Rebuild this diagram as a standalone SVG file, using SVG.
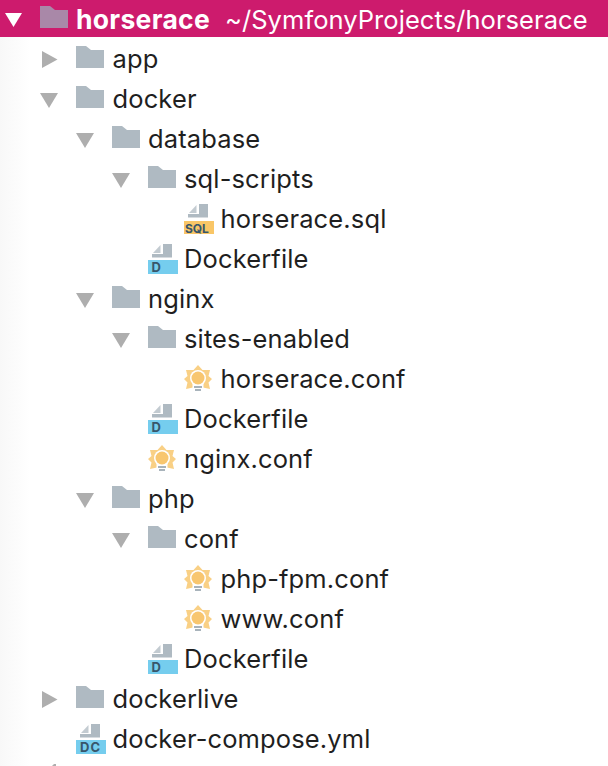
<svg xmlns="http://www.w3.org/2000/svg" width="608" height="766" viewBox="0 0 608 766">
<style>
text{font-family:"Inter","Liberation Sans",sans-serif;font-size:25.500px;letter-spacing:.13px;fill:#1f1f1f}
.h{fill:#fff;font-size:25.500px;letter-spacing:.06px}
.b{font-weight:700;font-size:26.500px;letter-spacing:.3px}
.f{fill:#afbac2}
.t{fill:#aeaeae}
.blue{fill:#75cdee}
.dl{font-size:13px;font-weight:700;fill:#37566b;letter-spacing:1.200px}
.sl{font-size:12px;font-weight:700;fill:#37566b;letter-spacing:-.1px}
</style>
<defs>
<linearGradient id="edge" x1="0" x2="1" y1="0" y2="0"><stop offset="0" stop-color="#f8f8f8"/><stop offset="1" stop-color="#fff"/></linearGradient>
<path id="folder" class="f" d="M0 0H10L15 4H28V22H0Z"/>
<path id="right" class="t" d="M0 0L15.500 8.500L0 17Z"/>
<path id="down" class="t" d="M0 0H18L9 15Z"/>
<g id="doc"><path class="f" d="M11 0H20V13.500H0V10H11Z"/><path class="f" d="M1 9L8.500 1V9Z" opacity=".75"/></g>
<g id="bulb">
<path fill="#f9d085" d="M14 0L18.500 5L26 5L24.500 11L28 14L24.500 17.500L26 24L19 22.500H9L2 24L3.500 17.500L0 14L3.500 11L2 5L9.500 5Z"/>
<circle cx="14" cy="13" r="8" fill="#fff"/>
<path fill="#fff" d="M8.500 18H19.500V28H8.500Z"/>
<circle cx="14" cy="13" r="6.500" fill="#f8c66f"/>
<rect x="10" y="21" width="8" height="2" fill="#a8b3bb"/><rect x="11" y="24" width="6" height="2" fill="#a8b3bb"/>
</g>
</defs>
<rect width="608" height="766" fill="#fff"/>
<rect width="30" height="766" fill="url(#edge)"/>
<rect width="608" height="37" fill="#cd1b6d"/>
<g id="connectors"/>
<g id="root"><path fill="#fff" d="M5 13H22L13.500 27Z"/><path fill="#a988a8" d="M40 6H50L55 10H68V28H40Z"/><text class="h b" x="76" y="28.500">horserace</text><text class="h" x="225" y="28.500">~/SymfonyProjects/horserace</text></g>
<g id="app"><use href="#right" x="42" y="51"/><use href="#folder" x="76" y="46"/><text x="112.500" y="68">app</text></g>
<g id="docker"><use href="#down" x="40" y="93"/><use href="#folder" x="76" y="86"/><text x="112.500" y="108">docker</text></g>
<g id="database"><use href="#down" x="76" y="133"/><use href="#folder" x="112" y="126"/><text x="148" y="148">database</text></g>
<g id="sql-scripts"><use href="#down" x="112" y="173"/><use href="#folder" x="148" y="166"/><text x="184" y="188">sql-scripts</text></g>
<g id="horserace-sql"><use href="#doc" x="188" y="204"/><rect x="184" y="221" width="30" height="13" fill="#f9c667"/><text class="sl" x="185" y="232.500">SQL</text><text x="220.500" y="228">horserace.sql</text></g>
<g id="dockerfile-db"><use href="#doc" x="152" y="244"/><rect x="148" y="260" width="30" height="14" class="blue"/><text class="dl" x="151.500" y="272">D</text><text x="184" y="268">Dockerfile</text></g>
<g id="nginx"><use href="#down" x="76" y="293"/><use href="#folder" x="112" y="286"/><text x="148" y="308">nginx</text></g>
<g id="sites-enabled"><use href="#down" x="112" y="333"/><use href="#folder" x="148" y="326"/><text x="184" y="348">sites-enabled</text></g>
<g id="horserace-conf"><use href="#bulb" x="184" y="365"/><text x="220.500" y="388">horserace.conf</text></g>
<g id="dockerfile-nginx"><use href="#doc" x="152" y="404"/><rect x="148" y="420" width="30" height="14" class="blue"/><text class="dl" x="151.500" y="432">D</text><text x="184" y="428">Dockerfile</text></g>
<g id="nginx-conf"><use href="#bulb" x="148" y="445"/><text x="184" y="468">nginx.conf</text></g>
<g id="php"><use href="#down" x="76" y="493"/><use href="#folder" x="112" y="486"/><text x="148" y="508">php</text></g>
<g id="conf"><use href="#down" x="112" y="533"/><use href="#folder" x="148" y="526"/><text x="184" y="548">conf</text></g>
<g id="php-fpm-conf"><use href="#bulb" x="184" y="565"/><text x="220.500" y="588">php-fpm.conf</text></g>
<g id="www-conf"><use href="#bulb" x="184" y="605"/><text x="220.500" y="628">www.conf</text></g>
<g id="dockerfile-php"><use href="#doc" x="152" y="644"/><rect x="148" y="660" width="30" height="14" class="blue"/><text class="dl" x="151.500" y="672">D</text><text x="184" y="668">Dockerfile</text></g>
<g id="dockerlive"><use href="#right" x="42" y="691"/><use href="#folder" x="76" y="686"/><text x="112.500" y="708">dockerlive</text></g>
<g id="docker-compose"><use href="#doc" x="80" y="724"/><rect x="76" y="740" width="30" height="14" class="blue"/><text class="dl" x="80" y="752">DC</text><text x="112.500" y="748">docker-compose.yml</text></g>
<path class="t" d="M52 766L54 764H56V766Z"/>
</svg>
